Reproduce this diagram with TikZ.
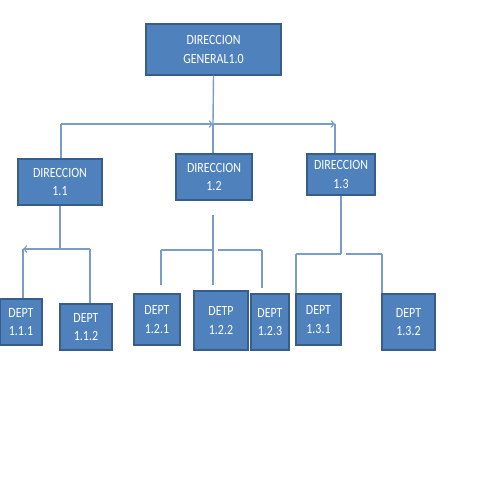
\documentclass[tikz,border=0pt]{standalone}
\usepackage{fontspec}
\setmainfont[FakeStretch=0.85]{Carlito}
\definecolor{boxblue}{HTML}{4F81BD}
\definecolor{boxline}{HTML}{385D8A}
\definecolor{linkblue}{HTML}{7A9CC8}
\tikzset{
  orgbox/.style={draw=boxline, line width=0.3mm, fill=boxblue, text=white, align=center, inner sep=0pt, font=\fontsize{10}{13}\selectfont},
  link/.style={draw=linkblue, line width=0.35mm},
}
\begin{document}
\begin{tikzpicture}[x=0.25mm,y=-0.25mm]
\useasboundingbox (0,0) rectangle (480,480);
\node[orgbox, minimum width=33.75mm, minimum height=12.75mm] (g) at (213.5,49.5) {DIRECCION\\GENERAL1.0};
\node[orgbox, minimum width=21mm, minimum height=11.5mm] (d11) at (60,182) {DIRECCION\\1.1};
\node[orgbox, minimum width=19mm, minimum height=11.5mm] (d12) at (214,177) {DIRECCION\\1.2};
\node[orgbox, minimum width=17mm, minimum height=10.25mm] (d13) at (341,174.5) {DIRECCION\\1.3};
\node[orgbox, minimum width=10.5mm, minimum height=11.5mm] (p111) at (21,322) {DEPT\\1.1.1};
\node[orgbox, minimum width=13mm, minimum height=11.5mm] (p112) at (86,327) {DEPT\\1.1.2};
\node[orgbox, minimum width=11.5mm, minimum height=12.75mm] (p121) at (157,319.5) {DEPT\\1.2.1};
\node[orgbox, minimum width=13.5mm, minimum height=14.75mm] (p122) at (221,320.5) {DETP\\1.2.2};
\node[orgbox, minimum width=9.5mm, minimum height=14mm] (p123) at (270,322) {DEPT\\1.2.3};
\node[orgbox, minimum width=11.25mm, minimum height=12.75mm] (p131) at (318.5,319.5) {DEPT\\1.3.1};
\node[orgbox, minimum width=13.25mm, minimum height=14mm] (p132) at (408.5,322) {DEPT\\1.3.2};
% general -> direcciones
\coordinate (j0) at (213,124);
\coordinate (jl) at (61,124);
\coordinate (jr) at (335,124);
\draw[link] (g.south) -- (j0);
\draw[link,->] (jl) -- (j0);
\draw[link,->] (j0) -- (jr);
\draw[link] (jl) -- (jl |- d11.north);
\draw[link] (j0) -- (j0 |- d12.north);
\draw[link] (jr) -- (jr |- d13.north);
% direccion 1.1
\coordinate (k1) at (60,249);
\coordinate (k1l) at (23,249);
\coordinate (k1r) at (90,249);
\draw[link] (d11.south) -- (k1);
\draw[link,->] (k1) -- (k1l);
\draw[link] (k1) -- (k1r);
\draw[link] (k1l) -- (k1l |- p111.north);
\draw[link] (k1r) -- (k1r |- p112.north);
% direccion 1.2
\coordinate (k2t) at (213,215);
\coordinate (k2) at (213,250);
\coordinate (k2b) at (213,285);
\coordinate (k2l) at (161,250);
\coordinate (k2lb) at (161,285);
\coordinate (k2r) at (218,250);
\coordinate (k2e) at (262,250);
\coordinate (k2eb) at (262,288);
\draw[link] (k2t) -- (k2b);
\draw[link] (k2l) -- (k2);
\draw[link] (k2r) -- (k2e);
\draw[link] (k2l) -- (k2lb);
\draw[link] (k2e) -- (k2eb);
% direccion 1.3
\coordinate (k3) at (341,254);
\coordinate (k3l) at (296,254);
\coordinate (k3m) at (346,254);
\coordinate (k3r) at (382,254);
\draw[link] (d13.south) -- (k3);
\draw[link] (k3l) -- (k3);
\draw[link] (k3m) -- (k3r);
\draw[link] (k3l) -- (k3l |- p131.north);
\draw[link] (k3r) -- (k3r |- p132.north);
\end{tikzpicture}
\end{document}
